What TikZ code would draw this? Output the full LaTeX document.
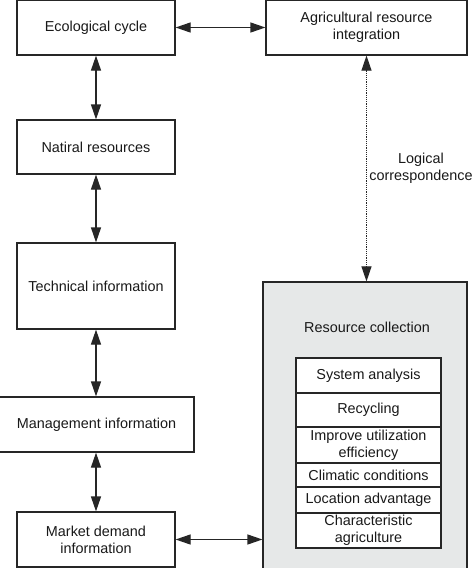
\documentclass[tikz,border=0pt]{standalone}
\usepackage{fontspec}
\setmainfont{Liberation Sans}
\usetikzlibrary{arrows.meta,calc}
\definecolor{linec}{HTML}{262626}
\definecolor{rcfill}{HTML}{E6E8E8}
\tikzset{
  box/.style={draw=linec, line width=1.2pt, fill=white, inner sep=2pt, align=center,
    font=\fontsize{14.4}{17}\selectfont, text=black!90},
  item/.style={draw=linec, line width=1.1pt, fill=white, inner sep=1pt, align=center,
    minimum width=145pt, font=\fontsize{14.4}{17}\selectfont, text=black!90},
  link/.style={line width=1.2pt, draw=linec, {Triangle[length=15pt,width=10pt]}-{Triangle[length=15pt,width=10pt]}},
  dlink/.style={link, densely dotted, line width=1pt},
  lbl/.style={align=center, font=\fontsize{14.4}{17}\selectfont, text=black!90}
}
\begin{document}
\begin{tikzpicture}[x=1pt,y=-1pt]
\useasboundingbox (0,0) rectangle (474,568);
\fill[white] (0,0) rectangle (474,568);
% left column
\node[box, minimum width=158pt, minimum height=55pt] (eco) at (96,27.5) {Ecological cycle};
\node[box, minimum width=158pt, minimum height=54pt] (nat) at (96,147) {Natiral resources};
\node[box, minimum width=158pt, minimum height=86pt] (tech) at (96,286) {Technical information};
\node[box, minimum width=195pt, minimum height=55pt] (mgmt) at (96.5,424.5) {Management information};
\node[box, minimum width=158pt, minimum height=55pt] (mkt) at (96,539.5) {Market demand\\information};
% right column
\node[box, minimum width=201pt, minimum height=55pt] (agri) at (366.5,27.5) {Agricultural resource\\integration};
\node[draw=linec, line width=1.2pt, fill=rcfill, minimum width=204pt, minimum height=320pt] (rc) at (365,442) {};
\node[lbl] (rct) at (367,327) {Resource collection};
\node[item, minimum height=35pt] (i1) at (368.5,375.5) {System analysis};
\node[item, minimum height=34pt] (i2) at (368.5,410) {Recycling};
\node[item, minimum height=36pt] (i3) at (368.5,445) {Improve utilization\\efficiency};
\node[item, minimum height=24pt] (i4) at (368.5,475) {Climatic conditions};
\node[item, minimum height=26pt] (i5) at (368.5,500) {Location advantage};
\node[item, minimum height=35pt] (i6) at (368.5,530.5) {Characteristic\\agriculture};
\node[lbl] (logic) at (421,168) {Logical\\correspondence};
% connectors
\draw[link] (eco.east) -- (agri.west |- eco.east);
\draw[link] (eco.south) -- (nat.north);
\draw[link] (nat.south) -- (tech.north);
\draw[link] (tech.south) -- (tech.south |- mgmt.north);
\draw[link] (mkt.north |- mgmt.south) -- (mkt.north);
\draw[link] (mkt.east) -- (mkt.east -| rc.west);
\draw[dlink] (agri.south) -- (agri.south |- rc.north);
\end{tikzpicture}
\end{document}
